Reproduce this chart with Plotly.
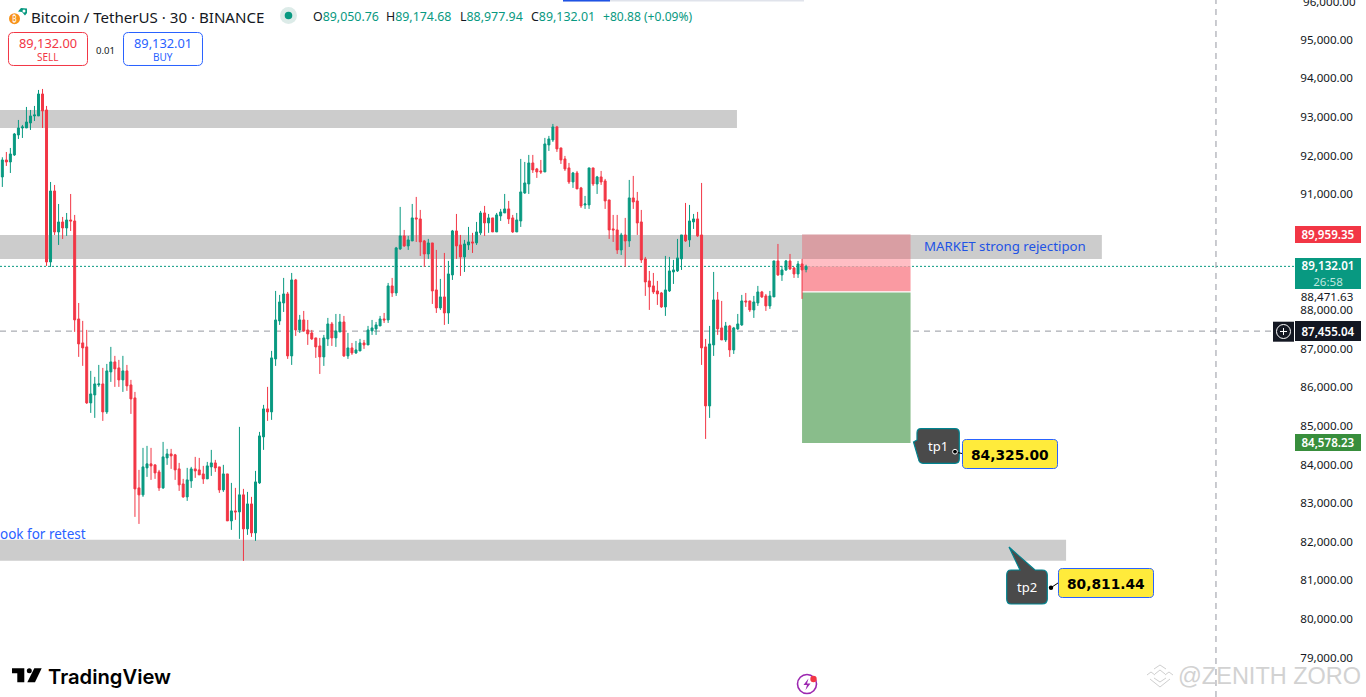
import plotly.graph_objects as go

W, H = 1366, 697

highs = [91958,92095,92199,92587,92924,92795,93261,93183,93287,93701,
93727,93287,91318,91241,90748,90412,90515,91007,90464,88184,
87720,87487,86425,86270,86580,86503,86606,87047,86814,86710,
86814,86580,86192,85881,83861,84431,84483,84431,83991,83861,
84586,84405,84405,84275,84042,83628,83913,83939,84198,84172,
83965,84068,84379,84120,83939,83991,83757,83524,83395,84975,
83369,83291,83162,83835,84845,85545,86011,86943,88496,88393,
88833,88470,88962,88807,87875,87978,87745,87486,87279,87279,
87357,87797,87693,87900,87900,87849,87408,87149,87201,87253,
87227,87590,87745,87693,87849,87926,88703,88833,89636,90672,
90076,89921,90749,90931,90594,89817,89843,89739,89558,88807,
89480,89273,90076,90490,89946,89817,90154,90000,90283,90568,
90698,90490,90387,90516,90620,91008,90827,90465,90516,91915,
91837,92019,92019,91682,91889,92459,92511,92821,92770,92200,
91993,91811,91578,91604,91190,90957,91682,91682,91475,91604,
91397,90853,90465,90465,90000,90387,91371,91475,91060,90594,
89377,89014,88962,88755,88470,89403,89377,89299,89843,89946,
90775,90724,90490,90542,91293,87253,87590,88988,88470,88237,
87693,87616,87564,87900,88393,88444,88237,88367,88626,88496,
88418,88496,89273,89713,89144,89299,89454,89118,89273,89325,
89174.68]

body_tops = [91888,91888,92043,92561,92717,92743,92872,93028,93054,93597,
93597,93183,91085,91085,90282,90282,90334,90334,90308,87770,
87150,87047,85829,86088,86088,86088,86425,86658,86658,86503,
86425,86425,86062,85726,83395,83939,84017,84017,83991,83809,
84198,84275,84275,84250,83887,83498,83602,83887,83887,83861,
83757,83965,84042,84042,83939,83757,83757,82799,82799,83214,
83214,82980,82980,83550,84742,85441,85441,86762,87745,88211,
88418,88418,88781,88781,87745,87745,87486,87408,87279,87072,
87279,87641,87641,87460,87693,87693,87020,87020,86968,87149,
87149,87486,87538,87616,87771,87771,88626,88626,89610,89921,
89921,89817,90387,90387,90361,89791,89739,89739,88522,88341,
88341,88936,90050,90050,89688,89713,89765,89765,90024,90516,
90516,90387,90387,90465,90542,90620,90620,90387,90335,91060,
91293,91811,91811,91656,91604,92303,92433,92744,92744,92200,
91915,91682,91552,91552,91164,90749,91682,91682,91449,91449,
91345,90853,90102,90076,89946,89946,90905,90905,90827,90283,
89325,88755,88626,88496,88444,88522,89014,89040,89351,89946,
89946,90309,90361,90361,89946,87046,87123,88263,88263,87538,
87590,87590,87538,87641,88237,88237,88237,88211,88470,88470,
88367,88367,89273,89273,89040,89273,89273,89092,89195,89195,
89132.01]

body_bottoms = [91448,91836,91836,92018,92536,92717,92717,92846,93028,93028,
93157,89246,89246,90023,90023,90127,90127,90308,87746,87124,
87021,85596,85596,85803,86062,85363,85363,86399,86477,86192,
86192,86037,85700,83369,83214,83214,83913,83965,83783,83395,
83395,84172,84224,83861,83473,83162,83162,83576,83835,83732,
83628,83628,83939,83913,83343,83343,82540,82540,82773,82773,
82333,82333,82229,82229,83524,84716,85363,85363,86735,87719,
88185,86813,86813,87486,87486,87460,87383,87253,87046,86787,
86787,87253,87279,87279,87434,86813,86813,86890,86890,86942,
87098,87098,87460,87512,87590,87745,87745,88444,88444,89584,
89662,89662,89791,90361,89765,89454,89454,88496,88056,88056,
87926,87926,88911,89662,89377,89377,89688,89739,89739,90000,
90257,90257,90024,90024,90439,90516,90361,90024,90024,90309,
91034,91267,91630,91578,91578,91578,92278,92407,92174,91889,
91656,91319,91319,91138,90698,90724,90724,91267,91267,91319,
90827,90076,90076,89558,89558,89791,89791,90801,90257,89299,
88729,88600,88470,88418,88082,88082,88496,88988,89014,89325,
89791,89817,90283,89921,87020,85518,85518,87098,87512,87227,
87227,86968,86968,87512,87616,88211,88004,88004,88185,88341,
88108,88108,88341,88911,88911,89040,89066,88936,88936,89040,
89050.76]

lows = [91189,91733,91551,91992,92432,92458,92717,92665,92898,93028,
92717,89143,89117,89945,89687,89842,89920,90049,87435,86788,
86555,85570,85337,85208,86011,85130,85311,86140,86011,86011,
85881,85907,85311,82644,82462,83162,83680,83602,83628,83317,
83369,83991,83887,83602,83317,83136,83058,83395,83654,83732,
83498,83628,83706,83809,83265,83291,82540,82307,82566,82074,
81504,82178,82126,82022,83498,84379,85130,85156,86554,87616,
87952,86735,86580,87331,87408,87434,87098,87227,86761,86346,
86554,87072,87072,87046,87434,86787,86735,86839,86864,86942,
86994,87098,87357,87357,87590,87667,87667,88341,88367,89558,
89636,89558,89791,89765,89403,89118,89325,88159,87926,88004,
87616,87641,88781,89325,88885,88988,89558,89480,89688,89946,
89921,90000,90024,90024,90309,90516,90231,90000,90024,90154,
91008,91008,91552,91423,91526,91578,92122,92355,92096,91785,
91604,91267,91164,91138,90646,90620,90620,91216,91008,91242,
90620,89843,89765,89454,89428,89118,89636,90620,89946,89221,
88367,88004,88418,88133,88056,87849,88470,88677,88988,89040,
89765,89636,90102,89895,86580,84663,85207,86813,87357,87227,
87175,86787,86864,87486,87590,88082,87952,87797,88108,88315,
87978,88030,88341,88885,88755,89014,89040,88833,88833,88289,
88977.94]

directions = ("GRGGGGGGGG" "RRGRGRGRRR" "RRGGGRGGRR" "GRRRRGGRRR" "GGRRRRGGRR"
              "RGGRRGRGRG" "RGRGGGRGGG" "GRGRGRRRRR" "GGRGGRGRGG" "RGGGGRGRGG"
              "RGGRRRGRRG" "RGGRRGGRGG" "RGRGGGRRGG" "GGRRRGGGRR" "RRGRRGGRGR"
              "RRRRGRGRRR" "RRRRRGGGGG" "RGGRRRGGRR" "GRGGGRRGGR" "RGGRGGRRGR" "G")

opens = [b if d == "G" else t for t, b, d in zip(body_tops, body_bottoms, directions)]
closes = [t if d == "G" else b for t, b, d in zip(body_tops, body_bottoms, directions)]
bars = list(range(len(opens)))

tick_values = list(range(79000, 96000, 1000))
top_tick = 96000
x_range = [-0.58, 339.33]
y_range = [77979, 96031]

zone_ends = [182.8, 273.6, 264.7]
zone_tops = [93182, 89945, 82049]
zone_bottoms = [92716, 89323, 81505]

position_start, position_end = 199, 226
stop_price = 89959.35
entry_price = 88471.63
target_price = 84578.23
last_price = 89132.01
cross_price = 87455.04
cross_bar = 302

GREEN, RED, BLUE, INK = "#089981", "#f23645", "#2962ff", "#131722"
FONT = "Noto Sans"
AXIS_SIZE = 11.6


def px(x):
    return x / W


def py(y):
    return 1 - y / H


def path(points, close=True):
    s = ""
    for i, p in enumerate(points):
        if len(p) == 2:
            s += f"{'M' if i == 0 else 'L'} {px(p[0]):.5f} {py(p[1]):.5f} "
        else:
            s += f"Q {px(p[0]):.5f} {py(p[1]):.5f} {px(p[2]):.5f} {py(p[3]):.5f} "
    return s + ("Z" if close else "")


def rr_points(x0, y0, x1, y1, r):
    return [(x0 + r, y0), (x1 - r, y0), (x1, y0, x1, y0 + r), (x1, y1 - r), (x1, y1, x1 - r, y1),
            (x0 + r, y1), (x0, y1, x0, y1 - r), (x0, y0 + r), (x0, y0, x0 + r, y0)]


shapes = []
annotations = []


def add_path(points, fill="rgba(0,0,0,0)", line=None, lw=1, close=True):
    shapes.append(dict(type="path", xref="paper", yref="paper", path=path(points, close), fillcolor=fill,
                       line=dict(color=line or "rgba(0,0,0,0)", width=lw if line else 0), layer="above"))


def add_circle(cx, cy, r, fill, line=None, lw=1):
    shapes.append(dict(type="circle", xref="paper", yref="paper", x0=px(cx - r), x1=px(cx + r),
                       y0=py(cy + r), y1=py(cy - r), fillcolor=fill,
                       line=dict(color=line or fill, width=lw if line else 0), layer="above"))


def text(x, y, s, size=12, color=INK, anchor="left", family=FONT, **kw):
    font = dict(size=size, color=color, family=family)
    if "weight" in kw:
        font["weight"] = kw.pop("weight")
    annotations.append(dict(xref="paper", yref="paper", x=px(x), y=py(y), text=s, showarrow=False,
                            xanchor=anchor, yanchor="middle", borderpad=0, borderwidth=0,
                            font=font, **kw))


def tag(price, s, bg, color="#ffffff", h=17, weight=600):
    annotations.append(dict(xref="paper", yref="y", x=px(1295), y=price, text=s, showarrow=False,
                            xanchor="left", yanchor="middle", align="center", width=64, height=h - 2,
                            bgcolor=bg, borderpad=1, borderwidth=0,
                            font=dict(size=AXIS_SIZE, color=color, family=FONT, weight=weight)))


# price zones
for end, top, bottom in zip(zone_ends, zone_tops, zone_bottoms):
    shapes.append(dict(type="rect", layer="below", x0=x_range[0], x1=end, y0=bottom, y1=top,
                       fillcolor="#cccccc", line_width=0))

# short position
shapes.append(dict(type="rect", layer="below", x0=position_start, x1=position_end, y0=zone_bottoms[1], y1=stop_price,
                   fillcolor="#d99ea3", line_width=0))
shapes.append(dict(type="rect", layer="below", x0=position_start, x1=position_end, y0=last_price, y1=zone_bottoms[1],
                   fillcolor="#ffbec4", line_width=0))
shapes.append(dict(type="rect", layer="below", x0=position_start, x1=position_end, y0=entry_price + 15, y1=last_price,
                   fillcolor="#fa9aa2", line_width=0))
shapes.append(dict(type="rect", layer="below", x0=position_start, x1=position_end, y0=target_price - 20, y1=entry_price - 15,
                   fillcolor="#89bd8b", line_width=0))

# price lines and crosshair
shapes.append(dict(type="line", layer="below", xref="paper", x0=0, x1=px(1295), y0=last_price, y1=last_price,
                   line=dict(color=GREEN, width=1, dash="2px,2px")))
shapes.append(dict(type="line", layer="below", xref="paper", x0=0, x1=px(1273), y0=cross_price, y1=cross_price,
                   line=dict(color="#9598a1", width=1, dash="6px,5px")))
shapes.append(dict(type="line", layer="below", yref="paper", x0=cross_bar, x1=cross_bar, y0=0, y1=1,
                   line=dict(color="#9598a1", width=1, dash="6px,5px")))

# top progress sliver
add_path([(563, 0), (804, 0), (804, 1.5), (563, 1.5)], fill="#e0e3eb")
add_path([(563, 0), (610, 0), (610, 1.5), (563, 1.5)], fill="#1e53e5")

# header
add_circle(14.5, 18.7, 5.5, "#f7931a")
text(14.5, 18.7, "₿", size=8, color="#ffffff", anchor="center")
add_path([(18, 11.5), (21, 8), (27, 8.5), (27, 13), (25, 15.5), (22, 12), (18, 11.5)], fill="#089981")
add_circle(24, 11, 1.5, "#ffffff")
text(31, 16.5, "Bitcoin / TetherUS · 30 · BINANCE", size=15.1)
add_circle(288.5, 15.5, 8.5, "#dcebe8")
add_circle(288.5, 15.5, 3.8, GREEN)
for x, label, value in [(313, "O", "89,050.76"), (386, "H", "89,174.68"), (460, "L", "88,977.94"), (531, "C", "89,132.01")]:
    text(x, 16.5, f'<span style="color:{INK}">{label}</span><span style="color:{GREEN}">{value}</span>', size=12.4)
text(603, 16.5, "+80.88 (+0.09%)", size=12.1, color=GREEN)

add_path(rr_points(8.5, 32.5, 87.5, 65.5, 5), fill="#ffffff", line=RED)
text(48, 42.5, "89,132.00", size=12.8, color=RED, anchor="center")
text(48, 57, "SELL", size=10, color=RED, anchor="center")
text(105, 50, "0.01", size=9.5, anchor="center")
add_path(rr_points(123.5, 32.5, 202.5, 65.5, 5), fill="#ffffff", line=BLUE)
text(163, 42.5, "89,132.01", size=12.8, color=BLUE, anchor="center")
text(163, 57, "BUY", size=10, color=BLUE, anchor="center")

# drawing labels
text(924, 246, "MARKET strong rejectipon", size=13.25, color="#1e53e5")
text(0, 534, "ook for retest", size=13.5, color="#2962ff")

BUB, BUB_LINE = "#4a4a4a", "#00838f"
add_path([(921, 428.7), (955, 428.7), (959.3, 428.7, 959.3, 433), (959.3, 459), (959.3, 463.3, 955, 463.3),
          (923, 463.3), (919, 463.3, 918.5, 459), (913.5, 442), (917, 440), (917, 433), (917, 428.7, 921, 428.7)],
         fill=BUB, line=BUB_LINE, lw=1.2)
text(938, 446, "tp1", size=13, color="#ffffff", anchor="center")
add_path([(955, 452), (962, 453.5)], line="#000000", close=False)
add_circle(955, 451.7, 2.4, "#000000", line="#ffffff", lw=1)
add_path(rr_points(962.5, 439.5, 1057.5, 468.5, 4), fill="#ffeb3b", line=BLUE)
text(1010, 454.5, "84,325.00", size=13.8, color="#000000", anchor="center", family="DejaVu Sans", weight=700)

add_path([(1011, 570), (1020, 570), (1009, 547), (1035, 570), (1042, 570), (1047.3, 570, 1047.3, 575),
          (1047.3, 599), (1047.3, 604, 1042, 604), (1011, 604), (1006.7, 604, 1006.7, 599), (1006.7, 575),
          (1006.7, 570, 1011, 570)], fill=BUB, line=BUB_LINE, lw=1.2)
text(1027, 587, "tp2", size=13, color="#ffffff", anchor="center")
add_path([(1051, 587.7), (1058, 583)], line="#000000", close=False)
add_circle(1051, 587.7, 2.2, "#000000")
add_path(rr_points(1058.5, 568.5, 1153.5, 597.5, 4), fill="#ffeb3b", line=BLUE)
text(1106, 583.5, "80,811.44", size=13.8, color="#000000", anchor="center", family="DejaVu Sans", weight=700)

# axis tags
annotations.append(dict(xref="paper", yref="y", x=px(1356), y=top_tick, text=f"{top_tick:,.2f}", showarrow=False,
                        xanchor="right", yanchor="middle", borderpad=0, borderwidth=0,
                        font=dict(size=AXIS_SIZE, color=INK, family=FONT)))
tag(stop_price, "89,959.35", RED)
annotations.append(dict(xref="paper", yref="y", x=px(1295), y=last_price,
                        text="89,132.01<br><span style='color:#bfe6df;font-weight:400'>26:58</span>",
                        showarrow=False, xanchor="left", yanchor="top", yshift=8, align="center", width=64, height=29,
                        bgcolor=GREEN, borderpad=1, borderwidth=0,
                        font=dict(size=AXIS_SIZE, color="#ffffff", family=FONT, weight=600)))
annotations.append(dict(xref="paper", yref="y", x=px(1295), y=entry_price, text="88,471.63", showarrow=False,
                        xanchor="left", yanchor="middle", align="center", width=64, height=13, bgcolor="#ffffff",
                        yshift=-4.5, borderpad=0, borderwidth=0, font=dict(size=AXIS_SIZE, color=INK, family=FONT)))
tag(cross_price, "87,455.04", INK, h=20)
tag(target_price, "84,578.23", "#388e3c")
add_path([(1273, 321.7), (1294, 321.7), (1294, 341.7), (1273, 341.7)], fill=INK)
add_circle(1283.5, 331.5, 7, INK, line="#ffffff", lw=1)
add_path([(1280, 331.5), (1287, 331.5)], line="#ffffff", close=False)
add_path([(1283.5, 328), (1283.5, 335)], line="#ffffff", close=False)

# logo
add_path([(12, 668.3), (24.3, 668.3), (24.3, 682.3), (17.3, 682.3), (17.3, 673.3), (12, 673.3)], fill="#000000")
add_circle(29.3, 670.7, 2.5, "#000000")
add_path([(27.3, 682.3), (34.3, 668.3), (41.7, 668.3), (35, 682.3)], fill="#000000")
annotations.append(dict(xref="paper", yref="paper", x=px(46), y=py(676), text="TradingView", showarrow=False,
                        xanchor="left", yanchor="middle", font=dict(size=20.2, color="#000000", family="Inter", weight=600)))

# lightning icon
add_circle(807, 684, 9.5, "#ffffff", line="#9c27b0", lw=1.6)
add_path([(808.5, 678.5), (803.5, 685), (807, 685), (805.5, 690), (810.5, 683.5), (807, 683.5)], fill="#9c27b0")
add_circle(813.5, 679, 3.2, RED)

# watermark
for pts in [[(1154, 669), (1160, 665), (1166, 669)], [(1147, 675), (1151, 672), (1155, 675)],
            [(1155, 674), (1160, 670), (1165, 674)], [(1165, 675), (1169, 672), (1173, 675)],
            [(1154, 678), (1160, 682), (1166, 678)], [(1150, 679), (1160, 687), (1170, 679)]]:
    add_path(pts, line="#cfcfcf", close=False)
annotations.append(dict(xref="paper", yref="paper", x=px(1176), y=py(676), text="@ZENITH ZORO", showarrow=False,
                        xanchor="left", yanchor="middle", font=dict(size=23.5, color="#d2d2d2", family="Liberation Sans")))

fig = go.Figure(go.Candlestick(
    x=bars, open=opens, high=highs, low=lows, close=closes,
    increasing=dict(line=dict(color=GREEN, width=1), fillcolor=GREEN),
    decreasing=dict(line=dict(color=RED, width=1), fillcolor=RED),
    whiskerwidth=0, hoverinfo="skip", showlegend=False,
))

fig.update_layout(
    width=W, height=H, autosize=False,
    margin=dict(l=0, r=0, t=0, b=0, pad=0),
    paper_bgcolor="#ffffff", plot_bgcolor="#ffffff",
    boxgap=0.3, showlegend=False,
    xaxis=dict(range=x_range, visible=False, rangeslider=dict(visible=False), fixedrange=True),
    yaxis=dict(range=y_range, side="right", ticklabelposition="inside", tickvals=tick_values,
               tickformat=",.2f", showgrid=False, zeroline=False, showline=False, ticks="",
               ticklabelstandoff=10, tickfont=dict(size=AXIS_SIZE, color=INK, family=FONT), fixedrange=True),
    shapes=shapes, annotations=annotations,
)

fig.write_html("out.html", config=dict(displayModeBar=False),
               post_script="document.body.style.margin='0';document.documentElement.style.overflow='hidden';")
